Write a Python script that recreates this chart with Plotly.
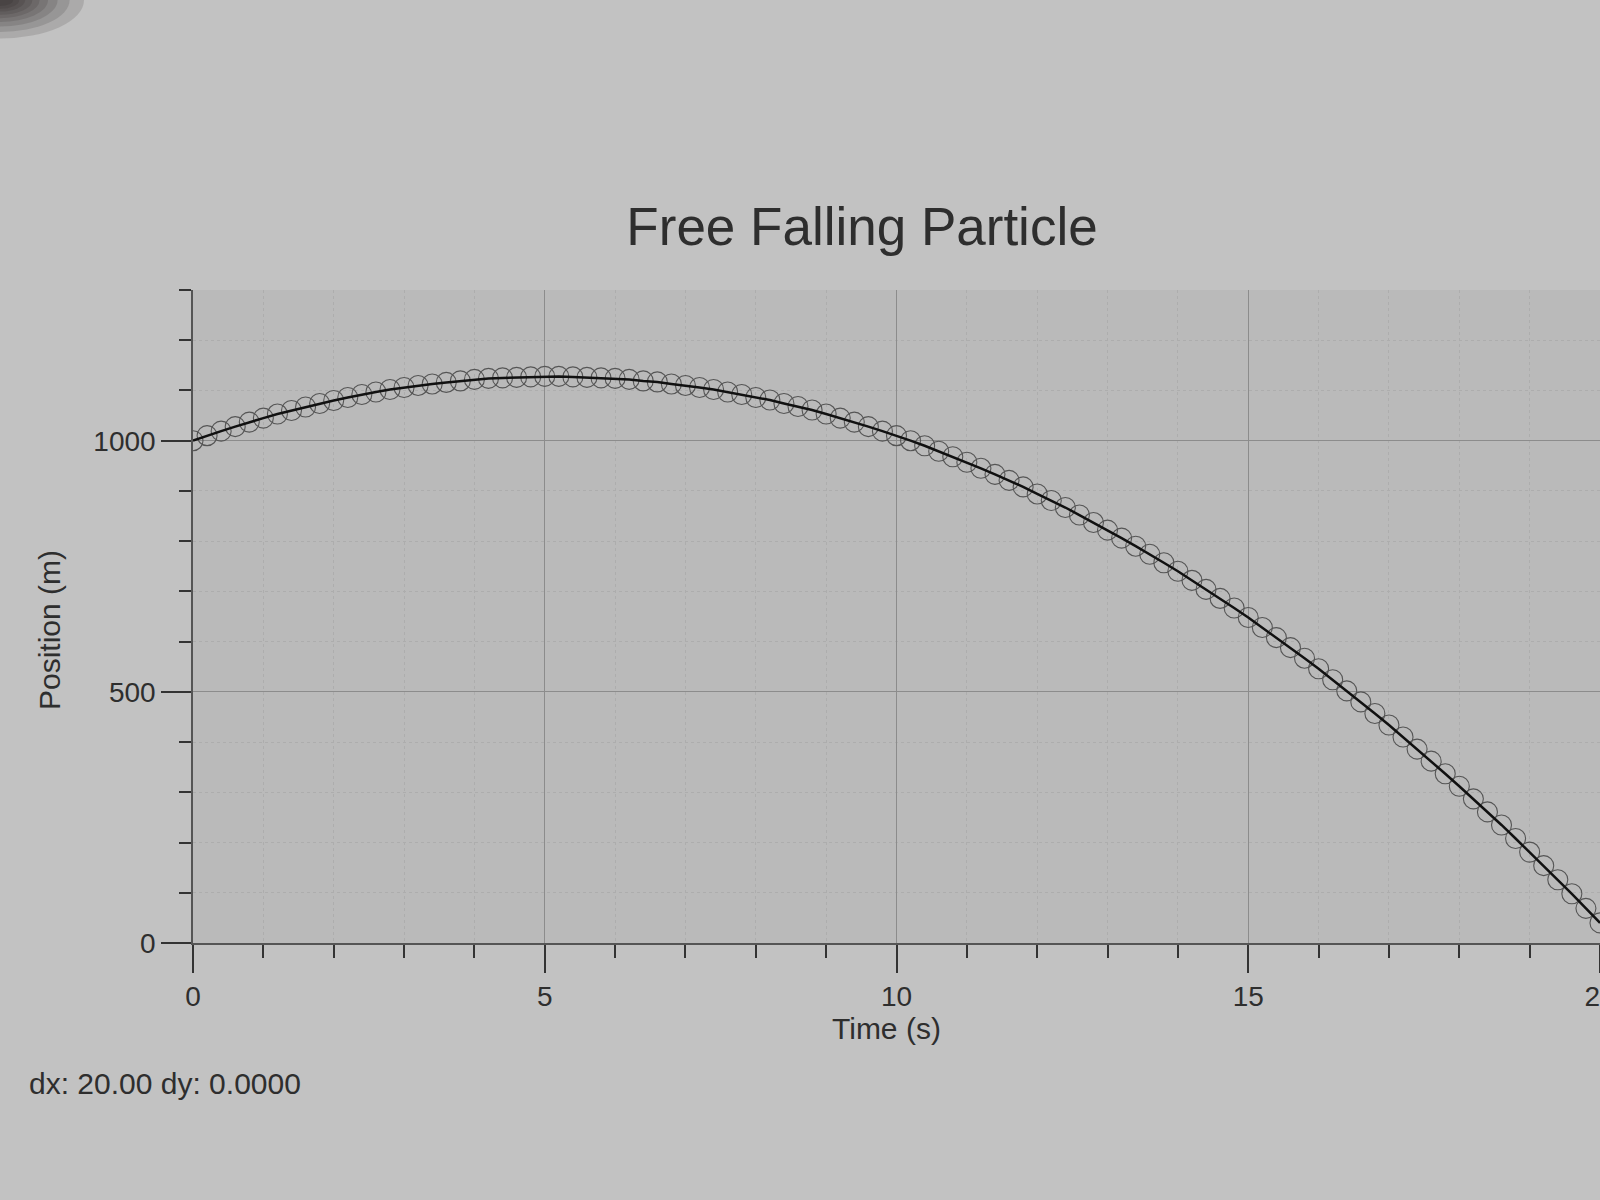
import plotly.graph_objects as go

# ---- data ----
time_s = [round(i * 0.2, 1) for i in range(101)]
position_m = [
    1000, 1010, 1019, 1028, 1037, 1045, 1053, 1060, 1067, 1074,
    1080, 1086, 1092, 1097, 1102, 1106, 1110, 1113, 1116, 1119,
    1122, 1124, 1125, 1126, 1127, 1128, 1128, 1127, 1126, 1125,
    1124, 1122, 1119, 1117, 1113, 1110, 1106, 1102, 1097, 1092,
    1086, 1081, 1074, 1068, 1061, 1053, 1045, 1037, 1028, 1019,
    1010, 1000, 990, 979, 968, 957, 945, 933, 921, 908,
    894, 881, 867, 852, 837, 822, 806, 790, 774, 757,
    740, 722, 704, 686, 667, 648, 628, 608, 588, 567,
    546, 524, 502, 480, 457, 434, 410, 386, 362, 337,
    312, 287, 261, 235, 208, 181, 154, 126, 98, 69,
    40,
]
x_tick_vals = [0, 5, 10, 15, 20]
x_tick_text = ["0", "5", "10", "15", "20"]
y_tick_vals = [0, 500, 1000]
y_tick_text = ["0", "500", "1000"]

title_text = "Free Falling Particle"
x_title = "Time (s)"
y_title = "Position (m)"
status_text = "dx: 20.00 dy: 0.0000"

# ---- layout constants ----
W, H = 1600, 1200
L, R, T, B = 193, 0, 290, 257
FONT = "Liberation Sans, Arial, sans-serif"
TXT = "#2e2e2e"
PAPER = "#c2c2c2"

fig = go.Figure()
fig.add_trace(go.Scatter(
    x=time_s, y=position_m, mode="markers",
    marker=dict(symbol="circle-open", size=20, color="#555555", line=dict(width=1.1, color="#555555")),
    showlegend=False, hoverinfo="skip",
))
fig.add_trace(go.Scatter(
    x=time_s, y=position_m, mode="lines",
    line=dict(color="#111111", width=2.5),
    showlegend=False,
))

pw, ph = W - L - R, H - T - B

def px_x(px):
    return (px - L) / pw

def px_y(py):
    return (H - B - py) / ph

# soft photographic shadow in the top-left corner
for r in [70, 58, 48, 40, 33, 27, 21, 16, 11]:
    fig.add_shape(type="circle", xref="paper", yref="paper",
                  x0=px_x(-r * 1.2), x1=px_x(r * 1.2), y0=px_y(r * 0.55), y1=px_y(-r * 0.55),
                  fillcolor="#241e1e", opacity=0.14, line=dict(width=0), layer="above")

fig.update_layout(
    width=W, height=H,
    margin=dict(l=L, r=R, t=T, b=B, autoexpand=False),
    paper_bgcolor=PAPER,
    plot_bgcolor="#bababa",
    font=dict(family=FONT, color=TXT, size=28),
    title=dict(text=title_text, x=862 / W, xanchor="center", xref="container",
               y=1 - 226 / H, yanchor="middle", yref="container",
               font=dict(size=53, color=TXT, family=FONT)),
    xaxis=dict(
        range=[0, 20], tickmode="array", tickvals=x_tick_vals, ticktext=x_tick_text,
        ticks="outside", ticklen=28, tickwidth=1.5, tickcolor="#333",
        showline=True, linecolor="#555", linewidth=1.5,
        showgrid=True, gridcolor="#8c8c8c", gridwidth=1,
        zeroline=False, automargin=False, ticklabeloverflow="allow",
        tickfont=dict(size=28, color=TXT),
        minor=dict(dtick=1, ticks="outside", ticklen=13, tickwidth=1.5, tickcolor="#333",
                   showgrid=True, gridcolor="#adadad", griddash="dot", gridwidth=1),
    ),
    yaxis=dict(
        range=[0, 1300], tickmode="array", tickvals=y_tick_vals, ticktext=y_tick_text,
        ticks="outside", ticklen=30, tickwidth=1.5, tickcolor="#333",
        showline=True, linecolor="#555", linewidth=1.5,
        showgrid=True, gridcolor="#8c8c8c", gridwidth=1,
        zeroline=False, automargin=False,
        tickfont=dict(size=28, color=TXT),
        minor=dict(dtick=100, ticks="outside", ticklen=12, tickwidth=1.5, tickcolor="#333",
                   showgrid=True, gridcolor="#adadad", griddash="dot", gridwidth=1),
    ),
)

fig.add_annotation(text=x_title, xref="paper", yref="paper",
                   x=px_x(886), y=px_y(1028), xanchor="center", yanchor="middle",
                   showarrow=False, font=dict(size=30, color=TXT, family=FONT))
fig.add_annotation(text=y_title, xref="paper", yref="paper", textangle=-90,
                   x=px_x(49), y=px_y(630), xanchor="center", yanchor="middle",
                   showarrow=False, font=dict(size=30, color=TXT, family=FONT))
fig.add_annotation(text=status_text, xref="paper", yref="paper",
                   x=px_x(27), y=px_y(1083), xanchor="left", yanchor="middle",
                   showarrow=False, font=dict(size=30, color=TXT, family=FONT))

fig.write_html(
    "out.html",
    config={"displayModeBar": False},
    post_script="document.body.style.margin='0';document.body.style.background='" + PAPER + "';",
)
